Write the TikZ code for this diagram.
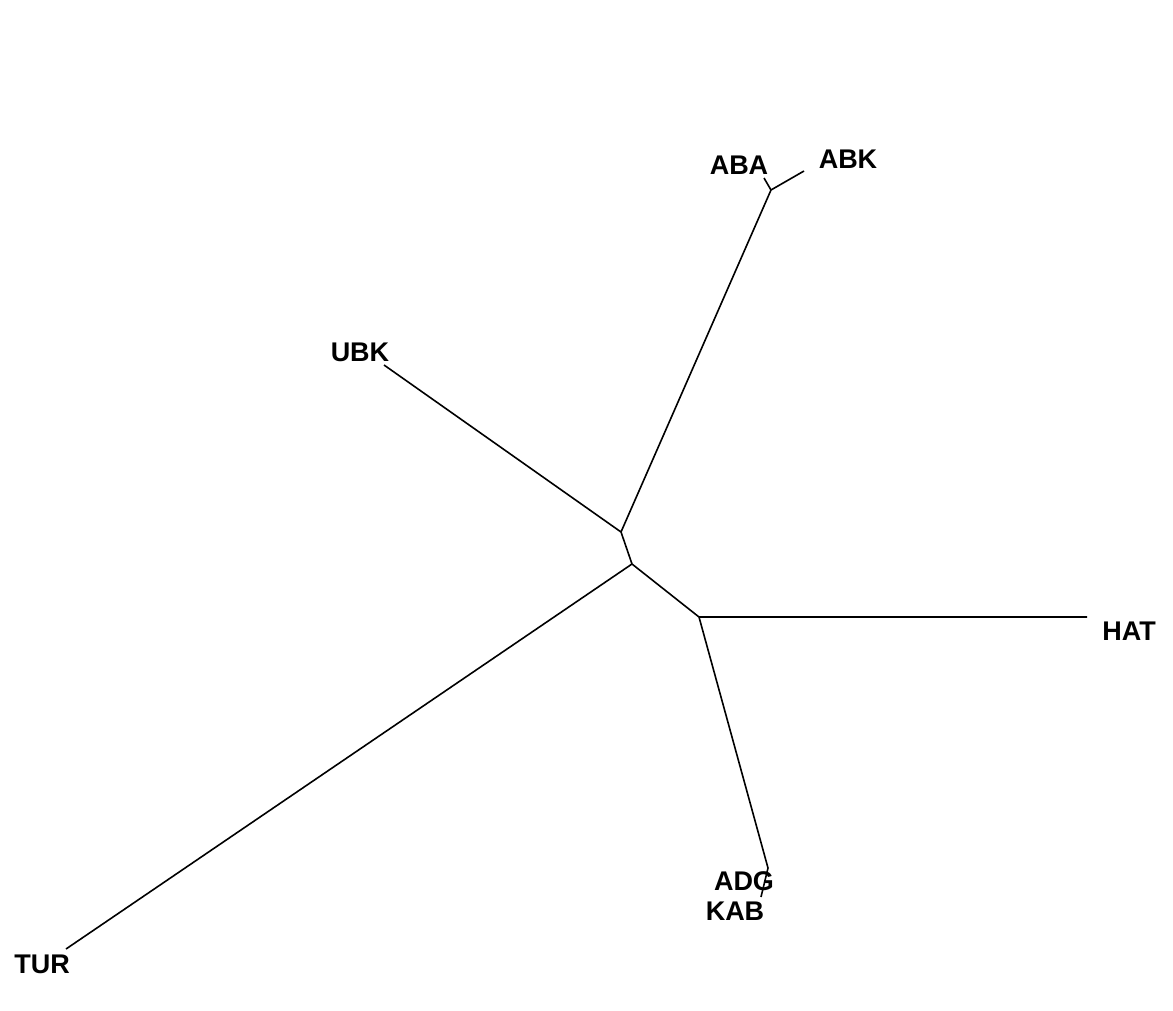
\documentclass[tikz,border=0pt]{standalone}
\usepackage{fontspec}
\setmainfont{Liberation Sans}
\begin{document}
\begin{tikzpicture}[x=1pt,y=-1pt,br/.style={line width=1.6pt},lab/.style={font=\fontsize{27}{30}\selectfont\bfseries,inner sep=0pt}]
\useasboundingbox (0,0) rectangle (1173,1011);
\clip (0,0) rectangle (1173,1011);
\coordinate (n1) at (621,532);
\coordinate (n2) at (632,564);
\coordinate (n3) at (699,617);
\coordinate (nab) at (771,190);
\coordinate (nad) at (768,868);
\coordinate (lUBK) at (384,365);
\coordinate (lABA) at (764,178);
\coordinate (lABK) at (804,171);
\coordinate (lTUR) at (66,949);
\coordinate (lHAT) at (1087,617);
\coordinate (lKAB) at (761,897);
\draw[br] (n1)--(lUBK) (n1)--(nab) (nab)--(lABA) (nab)--(lABK) (n1)--(n2) (n2)--(lTUR) (n2)--(n3) (n3)--(lHAT) (n3)--(nad) (nad)--(lKAB);
\node[lab] (tABA) at (739,165) {ABA};
\node[lab] (tABK) at (848,159) {ABK};
\node[lab] (tUBK) at (360,352) {UBK};
\node[lab] (tHAT) at (1129,631) {HAT};
\node[lab,anchor=east] (tTUR) at (70,964) {TUR};
\node[lab] (tADG) at (744,881) {ADG};
\node[lab] (tKAB) at (735,911) {KAB};
\end{tikzpicture}
\end{document}
